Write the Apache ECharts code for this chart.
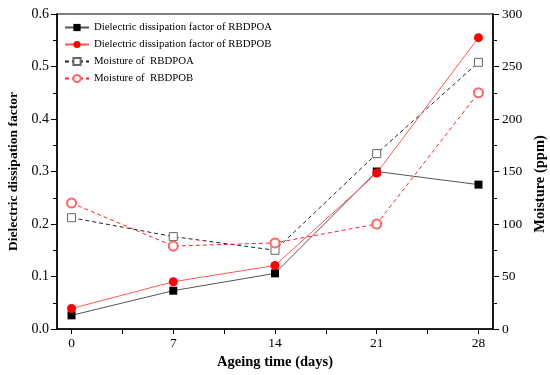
<!DOCTYPE html>
<html>
<head>
<meta charset="utf-8">
<script src="https://cdn.jsdelivr.net/npm/echarts@6/dist/echarts.min.js"></script>
<style>html,body{margin:0;padding:0;background:#fff}#c{width:550px;height:375px}</style>
</head>
<body>
<div id="c"></div>
<script>
const days = [0, 7, 14, 21, 28];
const dissA = [0.026, 0.073, 0.106, 0.300, 0.275];
const dissB = [0.039, 0.090, 0.121, 0.297, 0.555];
const moistA = [106, 88, 75, 167, 254];
const moistB = [120, 79, 82, 100, 225];
const xTickLabels = [0, 7, 14, 21, 28];
const xMinorTicks = [3.5, 10.5, 17.5, 24.5];
const names = [
  'Dielectric dissipation factor of RBDPOA',
  'Dielectric dissipation factor of RBDPOB',
  'Moisture of  RBDPOA',
  'Moisture of  RBDPOB'
];
const pair = (xs, ys) => xs.map((x, i) => [x, ys[i]]);

const font = 'Liberation Serif';
const chart = echarts.init(document.getElementById('c'), null, {renderer: 'canvas'});
chart.setOption({
  animation: false,
  backgroundColor: '#fff',
  textStyle: {fontFamily: font},
  grid: {left: 57, right: 57, top: 14, bottom: 46, show: true, borderColor: '#000', borderWidth: 1.2, containLabel: false, outerBoundsMode: 'none'},
  legend: {
    left: 64, top: 22, padding: 0, orient: 'vertical', itemWidth: 24, itemHeight: 9, itemGap: 6,
    textStyle: {fontFamily: font, fontSize: 10.8, color: '#000'},
    data: names
  },
  xAxis: {
    type: 'value', min: -1, max: 29,
    name: 'Ageing time (days)', nameLocation: 'middle', nameGap: 25,
    nameTextStyle: {fontFamily: font, fontSize: 14.5, fontWeight: 'bold', color: '#000'},
    axisLine: {lineStyle: {color: '#000', width: 1.5}},
    axisTick: {show: true, length: 5, customValues: xTickLabels.concat(xMinorTicks), lineStyle: {color: '#000'}},
    axisLabel: {customValues: xTickLabels, fontFamily: font, fontSize: 13.5, color: '#000', margin: 7},
    splitLine: {show: false}
  },
  yAxis: [{
    type: 'value', min: 0, max: 0.6, interval: 0.1, position: 'left',
    name: 'Dielectric dissipation factor', nameLocation: 'middle', nameGap: 36,
    nameTextStyle: {fontFamily: font, fontSize: 13.5, fontWeight: 'bold', color: '#000'},
    axisLine: {show: true, onZero: false, lineStyle: {color: '#000', width: 1.5}},
    axisTick: {show: true, length: 6, lineStyle: {color: '#000'}},
    minorTick: {show: true, splitNumber: 2, length: 4, lineStyle: {color: '#000'}},
    axisLabel: {formatter: v => v.toFixed(1), fontFamily: font, fontSize: 14, color: '#000', margin: 8},
    splitLine: {show: false}
  }, {
    type: 'value', min: 0, max: 300, interval: 50, position: 'right',
    name: 'Moisture (ppm)', nameLocation: 'middle', nameGap: 36,
    nameTextStyle: {fontFamily: font, fontSize: 14.5, fontWeight: 'bold', color: '#000', padding: [0, 25, 0, 0]},
    axisLine: {show: true, onZero: false, lineStyle: {color: '#000', width: 1.5}},
    axisTick: {show: true, length: 6, lineStyle: {color: '#000'}},
    minorTick: {show: true, splitNumber: 2, length: 4, lineStyle: {color: '#000'}},
    axisLabel: {fontFamily: font, fontSize: 13.5, color: '#000', margin: 9},
    splitLine: {show: false}
  }],
  series: [{
    name: names[0], type: 'line', yAxisIndex: 0, data: pair(days, dissA),
    symbol: 'rect', symbolSize: 8, z: 4,
    lineStyle: {color: '#555', width: 1},
    itemStyle: {color: '#000', borderColor: '#000', borderWidth: 0}
  }, {
    name: names[1], type: 'line', yAxisIndex: 0, data: pair(days, dissB),
    symbol: 'circle', symbolSize: 9, z: 5,
    lineStyle: {color: '#ff5555', width: 1},
    itemStyle: {color: '#ff0000', borderWidth: 0}
  }, {
    name: names[2], type: 'line', yAxisIndex: 1, data: pair(days, moistA),
    symbol: 'rect', symbolSize: 8, z: 3,
    lineStyle: {color: '#222', width: 1, type: [4, 3]},
    itemStyle: {color: '#fff', borderColor: '#666', borderWidth: 1}
  }, {
    name: names[3], type: 'line', yAxisIndex: 1, data: pair(days, moistB),
    symbol: 'emptyCircle', symbolSize: 9, z: 3,
    lineStyle: {color: '#ff2222', width: 1, type: [4, 3]},
    itemStyle: {color: '#ff6666', borderColor: '#ff6666', borderWidth: 1}
  }]
});
</script>
</body>
</html>
